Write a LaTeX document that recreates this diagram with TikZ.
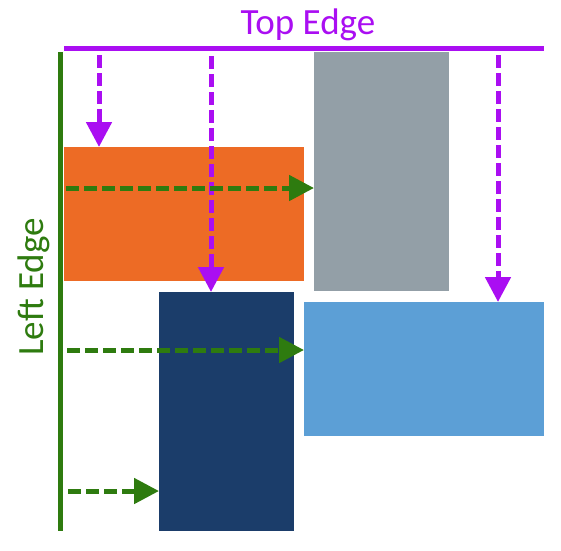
\documentclass[tikz,border=0pt]{standalone}
\usepackage{fontspec}
\setmainfont{Carlito}
\usepackage{xcolor}
\usetikzlibrary{arrows.meta}

\definecolor{edgepurple}{HTML}{AA0EF2}
\definecolor{edgegreen}{HTML}{2E7B0F}
\definecolor{boxorange}{HTML}{ED6B25}
\definecolor{boxgray}{HTML}{939FA7}
\definecolor{boxnavy}{HTML}{1B3D6A}
\definecolor{boxblue}{HTML}{5C9FD6}

\tikzset{
    box/.style = {draw = none, inner sep = 0pt, anchor = north west},
    topline/.style = {edgepurple, line width = 5pt},
    leftline/.style = {edgegreen, line width = 5pt},
    toparrow/.style = {edgepurple, line width = 5pt, dash pattern = on 13pt off 5pt,
        -{Triangle[width = 25pt, length = 25pt]}},
    leftarrow/.style = {edgegreen, line width = 5pt, dash pattern = on 13pt off 5pt,
        -{Triangle[width = 25pt, length = 25pt]}}
}

\begin{document}
\begin{tikzpicture}[x = 1pt, y = -1pt]
    \useasboundingbox (0, 0) rectangle (561, 550);

    % boxes
    \node[box, fill = boxorange, minimum width = 240pt, minimum height = 134pt] (orange) at (64, 147) {};
    \node[box, fill = boxgray, minimum width = 135pt, minimum height = 239pt] (gray) at (314, 52) {};
    \node[box, fill = boxnavy, minimum width = 135pt, minimum height = 239pt] (navy) at (159, 292) {};
    \node[box, fill = boxblue, minimum width = 240pt, minimum height = 134pt] (blue) at (304, 302) {};

    % edges
    \coordinate (top west) at (64, 48);
    \coordinate (top east) at (544, 48);
    \coordinate (left north) at (60, 52);
    \coordinate (left south) at (60, 531);
    \draw[topline] (top west) -- (top east);
    \draw[leftline] (left north) -- (left south);
    \node[edgepurple, font = \fontsize{37}{42}\selectfont] (toplabel) at (308, 25) {Top Edge};
    \node[edgegreen, rotate = 90, font = \fontsize{37}{42}\selectfont] (leftlabel) at (34, 287) {Left Edge};

    % arrows from the top edge
    \coordinate (ta) at (99, 55);
    \coordinate (tb) at (211, 56);
    \coordinate (tc) at (498, 55);
    \draw[toparrow] (ta) -- (ta |- orange.north);
    \draw[toparrow] (tb) -- (tb |- navy.north);
    \draw[toparrow] (tc) -- (tc |- blue.north);

    % arrows from the left edge
    \coordinate (la) at (66, 188);
    \coordinate (lb) at (67, 350);
    \coordinate (lc) at (68, 491);
    \draw[leftarrow] (la) -- (la -| gray.west);
    \draw[leftarrow] (lb) -- (lb -| blue.west);
    \draw[leftarrow] (lc) -- (lc -| navy.west);
\end{tikzpicture}
\end{document}
